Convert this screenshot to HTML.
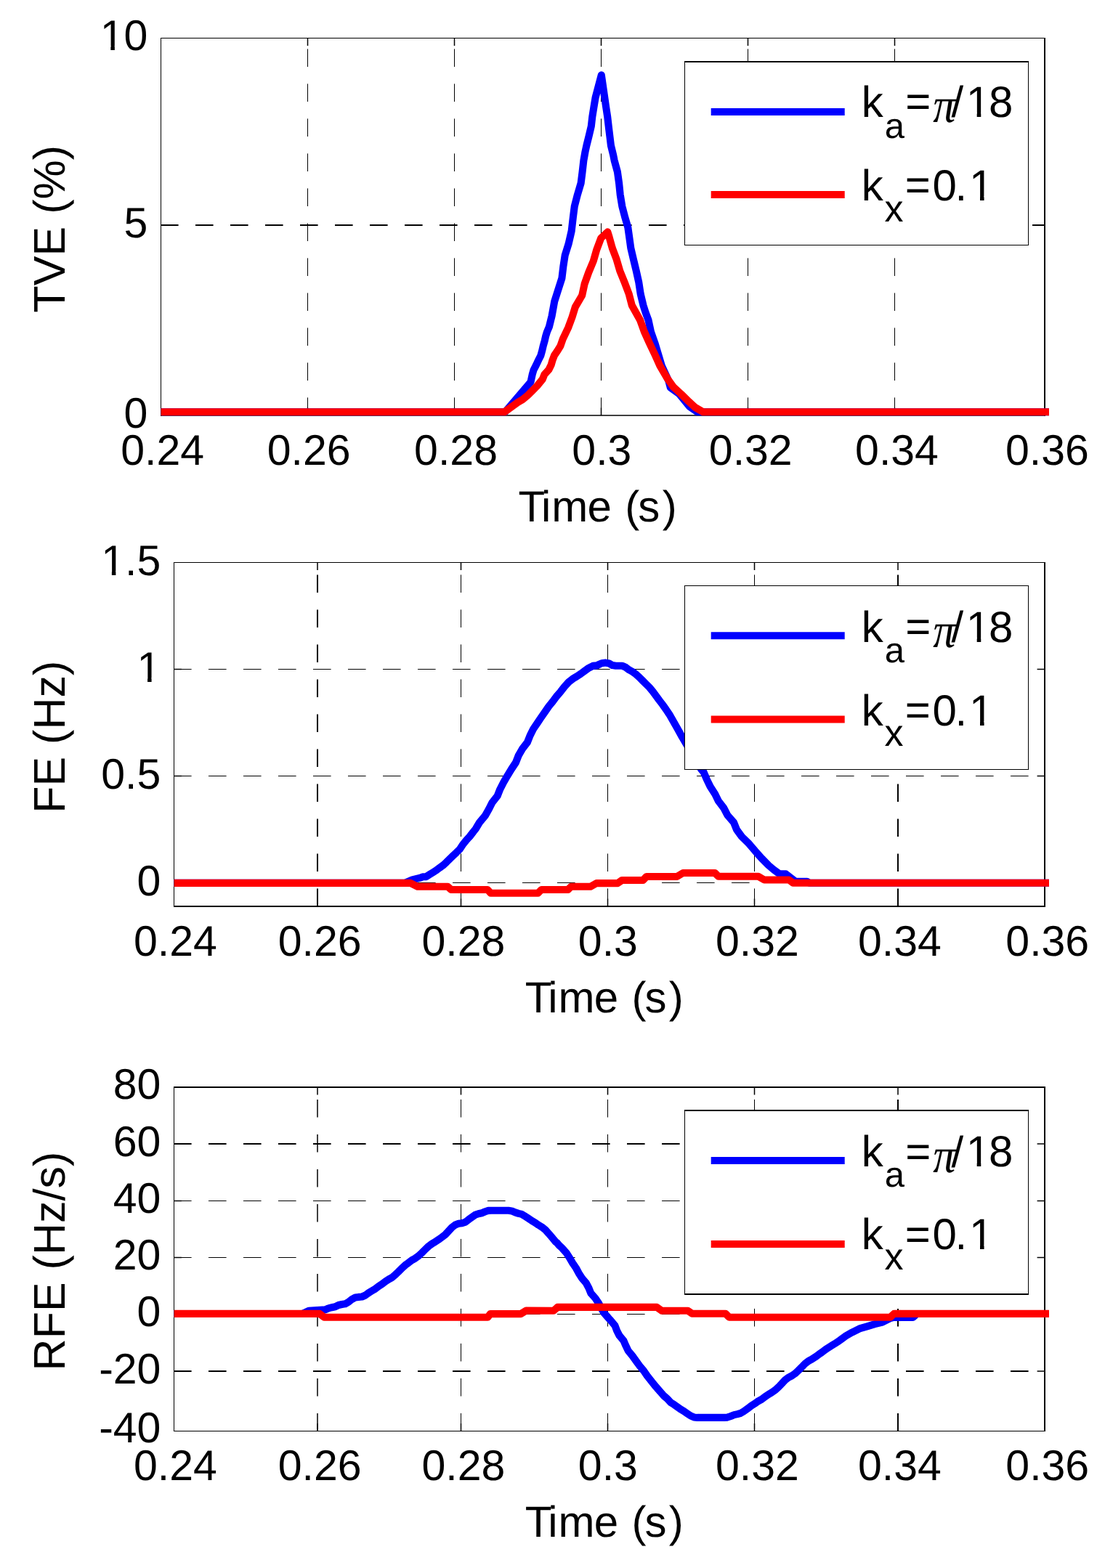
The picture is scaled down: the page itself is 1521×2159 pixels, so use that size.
<!DOCTYPE html><html><head><meta charset="utf-8"><title>TVE, FE and RFE vs time</title>
<style>html,body{margin:0;padding:0;background:#fff;overflow:hidden}svg{display:block}text{font-family:"Liberation Sans", Arial, Helvetica, sans-serif;fill:#000;font-kerning:none;text-rendering:geometricPrecision}</style></head><body>
<svg width="1521" height="2159" viewBox="0 0 1521 2159">
<defs><clipPath id="one" clipPathUnits="userSpaceOnUse"><path clip-rule="evenodd" d="M0 0H1521V2159H0ZM140.8 62.99H152.36V70.2H140.8ZM157.87 62.99H168.81V70.2H157.87ZM1332.93 155.02H1344.68V162.3H1332.93ZM1350.28 155.02H1361.38V162.3H1350.28ZM1337.23 270.12H1348.98V277.4H1337.23ZM1354.58 270.12H1365.68V277.4H1354.58ZM142.3 786.29H153.87V793.5H142.3ZM159.38 786.29H170.31V793.5H159.38ZM191.51 933.29H203.07V940.5H191.51ZM208.59 933.29H219.52V940.5H208.59ZM1332.93 877.92H1344.68V885.2H1332.93ZM1350.28 877.92H1361.38V885.2H1350.28ZM1337.23 992.92H1348.98V1000.2H1337.23ZM1354.58 992.92H1365.68V1000.2H1354.58ZM1332.93 1600.52H1344.68V1607.8H1332.93ZM1350.28 1600.52H1361.38V1607.8H1350.28ZM1337.23 1714.62H1348.98V1721.9H1337.23ZM1354.58 1714.62H1365.68V1721.9H1354.58Z"/></clipPath></defs>
<rect width="1521" height="2159" fill="#fff"/>
<path d="M423.5 572V547.4M423.5 524V499.4M423.5 476V451.4M423.5 428V403.4M423.5 380V355.4M423.5 332V307.4M423.5 284V259.4M423.5 236V211.4M423.5 188V163.4M423.5 140V115.4M423.5 92V67.4" stroke="#000" stroke-width="1" fill="none"/>
<path d="M625.5 572V547.4M625.5 524V499.4M625.5 476V451.4M625.5 428V403.4M625.5 380V355.4M625.5 332V307.4M625.5 284V259.4M625.5 236V211.4M625.5 188V163.4M625.5 140V115.4M625.5 92V67.4" stroke="#000" stroke-width="1" fill="none"/>
<path d="M827.5 572V547.4M827.5 524V499.4M827.5 476V451.4M827.5 428V403.4M827.5 380V355.4M827.5 332V307.4M827.5 284V259.4M827.5 236V211.4M827.5 188V163.4M827.5 140V115.4M827.5 92V67.4" stroke="#000" stroke-width="1" fill="none"/>
<path d="M1029.5 572V547.4M1029.5 524V499.4M1029.5 476V451.4M1029.5 428V403.4M1029.5 380V355.4M1029.5 332V307.4M1029.5 284V259.4M1029.5 236V211.4M1029.5 188V163.4M1029.5 140V115.4M1029.5 92V67.4" stroke="#000" stroke-width="1" fill="none"/>
<path d="M1231.5 572V547.4M1231.5 524V499.4M1231.5 476V451.4M1231.5 428V403.4M1231.5 380V355.4M1231.5 332V307.4M1231.5 284V259.4M1231.5 236V211.4M1231.5 188V163.4M1231.5 140V115.4M1231.5 92V67.4" stroke="#000" stroke-width="1" fill="none"/>
<path d="M221 310H245.6M269 310H293.6M317 310H341.6M365 310H389.6M413 310H437.6M461 310H485.6M509 310H533.6M557 310H581.6M605 310H629.6M653 310H677.6M701 310H725.6M749 310H773.6M797 310H821.6M845 310H869.6M893 310H917.6M941 310H965.6M989 310H1013.6M1037 310H1061.6M1085 310H1109.6M1133 310H1157.6M1181 310H1205.6M1229 310H1253.6M1277 310H1301.6M1325 310H1349.6M1373 310H1397.6M1421 310H1438" stroke="#000" stroke-width="2" fill="none"/>
<path d="M423.5 52.5v10.4M423.5 572v-10.4M625.5 52.5v10.4M625.5 572v-10.4M827.5 52.5v10.4M827.5 572v-10.4M1029.5 52.5v10.4M1029.5 572v-10.4M1231.5 52.5v10.4M1231.5 572v-10.4M221.5 310h10.4M1438 310h-10.4" stroke="#000" stroke-width="1.5" fill="none"/>
<path d="M221 52.5H1439" stroke="#000" stroke-width="1"/>
<path d="M221 572H1439" stroke="#000" stroke-width="1.6"/>
<path d="M221.5 52V572.8" stroke="#000" stroke-width="1"/>
<path d="M1438 52V572.8" stroke="#000" stroke-width="2"/>
<path d="M221.5 567.3 695.3 567.3 730.5 526 732.7 515.7 734.6 509.2 738 502.6 741.1 496 744.4 489.4 746.2 482.9 747.7 476.3 749.6 469.7 751.1 463.1 753.1 456.6 755.9 450 759.6 435 763.3 414.7 768.3 398.9 773.4 383.1 775.3 367.3 777.7 351.6 782.6 335.8 786.7 318 788.8 299.7 790.8 283.9 794.9 268.1 799.6 252.3 801.6 236.6 803.4 220.8 805.5 209 807.4 200.2 810.7 187 813.8 173.9 815.3 160.7 817.4 147.6 819.6 134.4 827.8 103.3 832.3 134.4 834.2 147.6 836.2 160.7 837.7 173.9 839.3 187 840.9 200.2 844.1 213.3 845.6 220.8 849.9 236.6 852.1 252.3 853.7 268.1 856.3 283.9 860.4 299.7 864.3 313 866.1 325.8 868.3 341.6 872 357.3 875.8 373.1 879.3 388.9 881.7 404.7 885.5 420.5 888.5 430 892.5 440.8 895.9 456.6 901.4 472.3 906.2 488.1 910.9 503.9 920.2 524 922.8 533.6 934.6 542.1 949.1 559.9 960 567.3 1444 567.3" stroke="#00f" stroke-width="10.1" fill="none" stroke-linejoin="round"/>
<path d="M221.5 567.3 694.3 567.3 706.3 558.6 712.9 553.9 719.4 550.1 726 544.7 732.6 538.1 739.2 531.5 746.7 522.3 749.4 515.7 755.3 509.2 758.6 502.6 760.5 496 763 489.4 767.4 482.9 771.4 476.3 774.8 466.6 782.3 450.8 787.6 436.5 791.9 422.6 801.2 406.8 804.6 391 810.2 375.2 816.8 359.4 821.3 343.7 827.2 327.9 836.4 319.4 838.4 325.8 842.8 341.6 848.7 357.3 853.3 373.1 859.7 388.9 865.7 404.7 869.8 420.5 875.1 430 881.1 440.8 886.8 456.6 893.9 472.3 901.4 488.1 908.5 503.9 918.9 521.6 926.8 532.7 937.6 542.6 948.2 553.1 956.9 561 968 567.3 1444 567.3" stroke="#f00" stroke-width="10.1" fill="none" stroke-linejoin="round"/>
<rect x="942.5" y="85" width="473" height="252.5" fill="#fff"/>
<path d="M942 85H1416" stroke="#000" stroke-width="2"/><path d="M942 337.5H1416" stroke="#000" stroke-width="1"/>
<path d="M942.5 85V337.5M1415.5 85V337.5" stroke="#000" stroke-width="1"/>
<g clip-path="url(#one)">
<path d="M978.7 153.9H1162.7" stroke="#00f" stroke-width="10"/>
<path d="M978.7 267.9H1162.7" stroke="#f00" stroke-width="10"/>
<text x="1185.76" y="160.8" font-size="60">k</text>
<text x="1217.72" y="189.6" font-size="49">a</text>
<text x="1246.17" y="160.2" font-size="60">=</text>
<text x="0" y="0" font-size="62" transform="translate(1284.3 168.4) scale(1 1.1)" style="font-family:'Liberation Serif',serif;font-style:italic">&#960;</text>
<text x="1309.4" y="161.4" font-size="60">/</text>
<text x="1329.74" y="160.8" font-size="60">1</text>
<text x="1361.09" y="160.8" font-size="60">8</text>
<text x="1185.86" y="275.9" font-size="60">k</text>
<text x="1217.52" y="304.8" font-size="52">x</text>
<text x="1245.87" y="275.3" font-size="60">=</text>
<text x="1283.56" y="275.9" font-size="60">0</text>
<text x="1314.52" y="275.9" font-size="60">.</text>
<text x="1334.04" y="275.9" font-size="60">1</text>
<text x="137.67 170.49" y="68.7" font-size="59">10</text>
<text x="170.49" y="326.5" font-size="59">5</text>
<text x="170.49" y="588.5" font-size="59">0</text>
<text x="166.3 199.11 215.5 248.31" y="639.8" font-size="59">0.24</text>
<text x="367.73 400.54 416.93 449.75" y="639.8" font-size="59">0.26</text>
<text x="570.11 602.93 619.32 652.13" y="639.8" font-size="59">0.28</text>
<text x="787.34 820.15 836.54" y="639.8" font-size="59">0.3</text>
<text x="975.82 1008.63 1025.02 1057.83" y="639.8" font-size="59">0.32</text>
<text x="1177.1 1209.91 1226.3 1259.11" y="639.8" font-size="59">0.34</text>
<text x="1384.03 1416.84 1433.23 1466.05" y="639.8" font-size="59">0.36</text>
<text x="713.45 744.99 759.32 808.45 841.82 860.28 878.33 911.65" y="717.9" font-size="60">Time (s)</text>
<text x="0" y="0" font-size="61" text-anchor="middle" transform="translate(89 315.2) rotate(-90)">TVE (%)</text>
</g>
<path d="M437 1248V1223.4M437 1200V1175.4M437 1152V1127.4M437 1104V1079.4M437 1056V1031.4M437 1008V983.4M437 960V935.4M437 912V887.4M437 864V839.4M437 816V791.4" stroke="#000" stroke-width="2" fill="none"/>
<path d="M634.5 1248V1223.4M634.5 1200V1175.4M634.5 1152V1127.4M634.5 1104V1079.4M634.5 1056V1031.4M634.5 1008V983.4M634.5 960V935.4M634.5 912V887.4M634.5 864V839.4M634.5 816V791.4" stroke="#000" stroke-width="1" fill="none"/>
<path d="M836.5 1248V1223.4M836.5 1200V1175.4M836.5 1152V1127.4M836.5 1104V1079.4M836.5 1056V1031.4M836.5 1008V983.4M836.5 960V935.4M836.5 912V887.4M836.5 864V839.4M836.5 816V791.4" stroke="#000" stroke-width="1" fill="none"/>
<path d="M1038.5 1248V1223.4M1038.5 1200V1175.4M1038.5 1152V1127.4M1038.5 1104V1079.4M1038.5 1056V1031.4M1038.5 1008V983.4M1038.5 960V935.4M1038.5 912V887.4M1038.5 864V839.4M1038.5 816V791.4" stroke="#000" stroke-width="1" fill="none"/>
<path d="M1236 1248V1223.4M1236 1200V1175.4M1236 1152V1127.4M1236 1104V1079.4M1236 1056V1031.4M1236 1008V983.4M1236 960V935.4M1236 912V887.4M1236 864V839.4M1236 816V791.4" stroke="#000" stroke-width="2" fill="none"/>
<path d="M239 921.5H263.6M287 921.5H311.6M335 921.5H359.6M383 921.5H407.6M431 921.5H455.6M479 921.5H503.6M527 921.5H551.6M575 921.5H599.6M623 921.5H647.6M671 921.5H695.6M719 921.5H743.6M767 921.5H791.6M815 921.5H839.6M863 921.5H887.6M911 921.5H935.6M959 921.5H983.6M1007 921.5H1031.6M1055 921.5H1079.6M1103 921.5H1127.6M1151 921.5H1175.6M1199 921.5H1223.6M1247 921.5H1271.6M1295 921.5H1319.6M1343 921.5H1367.6M1391 921.5H1415.6" stroke="#000" stroke-width="1" fill="none"/>
<path d="M239 1068.5H263.6M287 1068.5H311.6M335 1068.5H359.6M383 1068.5H407.6M431 1068.5H455.6M479 1068.5H503.6M527 1068.5H551.6M575 1068.5H599.6M623 1068.5H647.6M671 1068.5H695.6M719 1068.5H743.6M767 1068.5H791.6M815 1068.5H839.6M863 1068.5H887.6M911 1068.5H935.6M959 1068.5H983.6M1007 1068.5H1031.6M1055 1068.5H1079.6M1103 1068.5H1127.6M1151 1068.5H1175.6M1199 1068.5H1223.6M1247 1068.5H1271.6M1295 1068.5H1319.6M1343 1068.5H1367.6M1391 1068.5H1415.6" stroke="#000" stroke-width="1" fill="none"/>
<path d="M239 1215.5H263.6M287 1215.5H311.6M335 1215.5H359.6M383 1215.5H407.6M431 1215.5H455.6M479 1215.5H503.6M527 1215.5H551.6M575 1215.5H599.6M623 1215.5H647.6M671 1215.5H695.6M719 1215.5H743.6M767 1215.5H791.6M815 1215.5H839.6M863 1215.5H887.6M911 1215.5H935.6M959 1215.5H983.6M1007 1215.5H1031.6M1055 1215.5H1079.6M1103 1215.5H1127.6M1151 1215.5H1175.6M1199 1215.5H1223.6M1247 1215.5H1271.6M1295 1215.5H1319.6M1343 1215.5H1367.6M1391 1215.5H1415.6" stroke="#000" stroke-width="1" fill="none"/>
<path d="M437 774.5v10.4M437 1248v-10.4M634.5 774.5v10.4M634.5 1248v-10.4M836.5 774.5v10.4M836.5 1248v-10.4M1038.5 774.5v10.4M1038.5 1248v-10.4M1236 774.5v10.4M1236 1248v-10.4M239.5 921.5h10.4M1438 921.5h-10.4M239.5 1068.5h10.4M1438 1068.5h-10.4M239.5 1215.5h10.4M1438 1215.5h-10.4" stroke="#000" stroke-width="1.5" fill="none"/>
<path d="M239 774.5H1439" stroke="#000" stroke-width="1"/>
<path d="M239 1248H1439" stroke="#000" stroke-width="2"/>
<path d="M239.5 774V1249" stroke="#000" stroke-width="1"/>
<path d="M1438 774V1249" stroke="#000" stroke-width="2"/>
<path d="M239.5 1215.9 557 1215.9 567.4 1211.4 577.6 1208.9 582.2 1207.3 586.8 1207.1 591.4 1204.1 596 1201.2 600.6 1198.3 605.2 1194.8 609.9 1191.4 614.5 1187.2 619.1 1182.7 623.7 1178.2 628.3 1173.8 632.9 1169.2 637.5 1162.3 642.1 1156.6 646.7 1151.6 651.3 1145.6 654.7 1141.4 660.2 1132.2 667.9 1123 673.1 1113.8 677.6 1104.8 684.7 1095.9 688.3 1086.7 693 1077.5 698.3 1068.3 703.9 1059.1 710 1049.9 713.6 1040.6 718.8 1031.4 725.9 1022.2 729.5 1013 734.1 1003.8 740.3 994.6 744.2 988.8 749.7 980.9 755.2 972.9 760.8 966 766.3 958.6 771.8 952.2 777.3 945.1 782.9 939 788.4 934.7 793.9 931.4 799.4 927.7 805 923.6 810.5 919.7 816 916.9 821.5 916.4 824.6 914.9 828.2 913.2 833.8 912.6 838.4 913.5 843 916.1 847.6 916.8 852.2 916.8 856.8 916.8 861.4 918.9 866 922.4 870.6 924.9 875.2 928.3 879.9 932.5 884.5 937.1 889.1 941.7 893.7 946.3 898.3 951.8 902.9 958 907.5 964.3 912.1 970.3 916.7 976.7 921.3 983.6 933.1 1004.2 938.9 1014.7 952 1037 965 1059 968.6 1063.3 972.8 1073.1 977.6 1083 984 1092.9 988.8 1102.7 996.3 1112.6 1001.4 1122.5 1010 1132.3 1013.9 1142.2 1021 1152 1031.1 1161.9 1039.5 1171.8 1048.2 1181.6 1057.9 1191.5 1065 1197.5 1073 1203.4 1081.7 1203.4 1095 1213.7 1110.9 1213.7 1114 1215.7 1444 1215.7" stroke="#00f" stroke-width="10.1" fill="none" stroke-linejoin="round"/>
<path d="M239.5 1215.9 565.2 1215.9 574.7 1220.7 616.3 1220.7 621 1225 671.2 1225 675.5 1229.8 740.5 1229.8 745.2 1225 781.9 1225 786 1220.8 812.7 1220.8 821 1216.1 850.2 1216.1 856.1 1212 885.1 1212 889.8 1207 931.8 1207 940.1 1202 984 1202 989 1206.8 1044 1206.8 1052 1211.5 1086 1211.5 1091.6 1215.7 1444 1215.7" stroke="#f00" stroke-width="10.1" fill="none" stroke-linejoin="round"/>
<rect x="942.5" y="806.5" width="473" height="253" fill="#fff"/>
<path d="M942 806.5H1416M942 1059.5H1416" stroke="#000" stroke-width="1"/>
<path d="M942.5 806.5V1059.5M1415.5 806.5V1059.5" stroke="#000" stroke-width="1"/>
<g clip-path="url(#one)">
<path d="M978.7 875.3H1162.7" stroke="#00f" stroke-width="10"/>
<path d="M978.7 990.4H1162.7" stroke="#f00" stroke-width="10"/>
<text x="1185.76" y="883.7" font-size="60">k</text>
<text x="1217.72" y="911.6" font-size="49">a</text>
<text x="1246.17" y="883.1" font-size="60">=</text>
<text x="0" y="0" font-size="62" transform="translate(1284.3 891.3) scale(1 1.1)" style="font-family:'Liberation Serif',serif;font-style:italic">&#960;</text>
<text x="1309.4" y="884.3" font-size="60">/</text>
<text x="1329.74" y="883.7" font-size="60">1</text>
<text x="1361.09" y="883.7" font-size="60">8</text>
<text x="1185.86" y="998.7" font-size="60">k</text>
<text x="1217.52" y="1026.7" font-size="52">x</text>
<text x="1245.87" y="998.1" font-size="60">=</text>
<text x="1283.56" y="998.7" font-size="60">0</text>
<text x="1314.52" y="998.7" font-size="60">.</text>
<text x="1334.04" y="998.7" font-size="60">1</text>
<text x="139.18 171.99 188.39" y="792" font-size="59">1.5</text>
<text x="188.39" y="939" font-size="59">1</text>
<text x="139.18 171.99 188.39" y="1085.7" font-size="59">0.5</text>
<text x="188.39" y="1232.7" font-size="59">0</text>
<text x="184 216.81 233.2 266.01" y="1316.1" font-size="59">0.24</text>
<text x="382.73 415.54 431.93 464.75" y="1316.1" font-size="59">0.26</text>
<text x="580.51 613.33 629.72 662.53" y="1316.1" font-size="59">0.28</text>
<text x="795.84 828.65 845.04" y="1316.1" font-size="59">0.3</text>
<text x="985.02 1017.83 1034.22 1067.03" y="1316.1" font-size="59">0.32</text>
<text x="1181 1213.81 1230.2 1263.01" y="1316.1" font-size="59">0.34</text>
<text x="1384.33 1417.14 1433.53 1466.35" y="1316.1" font-size="59">0.36</text>
<text x="722.65 754.19 768.52 817.65 851.02 869.48 887.53 920.85" y="1393.8" font-size="60">Time (s)</text>
<text x="0" y="0" font-size="61" text-anchor="middle" transform="translate(89 1014.8) rotate(-90)">FE (Hz)</text>
</g>
<path d="M437 1970.5V1945.9M437 1922.5V1897.9M437 1874.5V1849.9M437 1826.5V1801.9M437 1778.5V1753.9M437 1730.5V1705.9M437 1682.5V1657.9M437 1634.5V1609.9M437 1586.5V1561.9M437 1538.5V1513.9" stroke="#000" stroke-width="1.5" fill="none"/>
<path d="M634.5 1970.5V1945.9M634.5 1922.5V1897.9M634.5 1874.5V1849.9M634.5 1826.5V1801.9M634.5 1778.5V1753.9M634.5 1730.5V1705.9M634.5 1682.5V1657.9M634.5 1634.5V1609.9M634.5 1586.5V1561.9M634.5 1538.5V1513.9" stroke="#000" stroke-width="1" fill="none"/>
<path d="M836.5 1970.5V1945.9M836.5 1922.5V1897.9M836.5 1874.5V1849.9M836.5 1826.5V1801.9M836.5 1778.5V1753.9M836.5 1730.5V1705.9M836.5 1682.5V1657.9M836.5 1634.5V1609.9M836.5 1586.5V1561.9M836.5 1538.5V1513.9" stroke="#000" stroke-width="1" fill="none"/>
<path d="M1038.5 1970.5V1945.9M1038.5 1922.5V1897.9M1038.5 1874.5V1849.9M1038.5 1826.5V1801.9M1038.5 1778.5V1753.9M1038.5 1730.5V1705.9M1038.5 1682.5V1657.9M1038.5 1634.5V1609.9M1038.5 1586.5V1561.9M1038.5 1538.5V1513.9" stroke="#000" stroke-width="1" fill="none"/>
<path d="M1236 1970.5V1945.9M1236 1922.5V1897.9M1236 1874.5V1849.9M1236 1826.5V1801.9M1236 1778.5V1753.9M1236 1730.5V1705.9M1236 1682.5V1657.9M1236 1634.5V1609.9M1236 1586.5V1561.9M1236 1538.5V1513.9" stroke="#000" stroke-width="2" fill="none"/>
<path d="M239 1575H263.6M287 1575H311.6M335 1575H359.6M383 1575H407.6M431 1575H455.6M479 1575H503.6M527 1575H551.6M575 1575H599.6M623 1575H647.6M671 1575H695.6M719 1575H743.6M767 1575H791.6M815 1575H839.6M863 1575H887.6M911 1575H935.6M959 1575H983.6M1007 1575H1031.6M1055 1575H1079.6M1103 1575H1127.6M1151 1575H1175.6M1199 1575H1223.6M1247 1575H1271.6M1295 1575H1319.6M1343 1575H1367.6M1391 1575H1415.6" stroke="#000" stroke-width="2" fill="none"/>
<path d="M239 1653.5H263.6M287 1653.5H311.6M335 1653.5H359.6M383 1653.5H407.6M431 1653.5H455.6M479 1653.5H503.6M527 1653.5H551.6M575 1653.5H599.6M623 1653.5H647.6M671 1653.5H695.6M719 1653.5H743.6M767 1653.5H791.6M815 1653.5H839.6M863 1653.5H887.6M911 1653.5H935.6M959 1653.5H983.6M1007 1653.5H1031.6M1055 1653.5H1079.6M1103 1653.5H1127.6M1151 1653.5H1175.6M1199 1653.5H1223.6M1247 1653.5H1271.6M1295 1653.5H1319.6M1343 1653.5H1367.6M1391 1653.5H1415.6" stroke="#000" stroke-width="1" fill="none"/>
<path d="M239 1731.5H263.6M287 1731.5H311.6M335 1731.5H359.6M383 1731.5H407.6M431 1731.5H455.6M479 1731.5H503.6M527 1731.5H551.6M575 1731.5H599.6M623 1731.5H647.6M671 1731.5H695.6M719 1731.5H743.6M767 1731.5H791.6M815 1731.5H839.6M863 1731.5H887.6M911 1731.5H935.6M959 1731.5H983.6M1007 1731.5H1031.6M1055 1731.5H1079.6M1103 1731.5H1127.6M1151 1731.5H1175.6M1199 1731.5H1223.6M1247 1731.5H1271.6M1295 1731.5H1319.6M1343 1731.5H1367.6M1391 1731.5H1415.6" stroke="#000" stroke-width="1" fill="none"/>
<path d="M239 1809.5H263.6M287 1809.5H311.6M335 1809.5H359.6M383 1809.5H407.6M431 1809.5H455.6M479 1809.5H503.6M527 1809.5H551.6M575 1809.5H599.6M623 1809.5H647.6M671 1809.5H695.6M719 1809.5H743.6M767 1809.5H791.6M815 1809.5H839.6M863 1809.5H887.6M911 1809.5H935.6M959 1809.5H983.6M1007 1809.5H1031.6M1055 1809.5H1079.6M1103 1809.5H1127.6M1151 1809.5H1175.6M1199 1809.5H1223.6M1247 1809.5H1271.6M1295 1809.5H1319.6M1343 1809.5H1367.6M1391 1809.5H1415.6" stroke="#000" stroke-width="1" fill="none"/>
<path d="M239 1888H263.6M287 1888H311.6M335 1888H359.6M383 1888H407.6M431 1888H455.6M479 1888H503.6M527 1888H551.6M575 1888H599.6M623 1888H647.6M671 1888H695.6M719 1888H743.6M767 1888H791.6M815 1888H839.6M863 1888H887.6M911 1888H935.6M959 1888H983.6M1007 1888H1031.6M1055 1888H1079.6M1103 1888H1127.6M1151 1888H1175.6M1199 1888H1223.6M1247 1888H1271.6M1295 1888H1319.6M1343 1888H1367.6M1391 1888H1415.6" stroke="#000" stroke-width="2" fill="none"/>
<path d="M437 1497v10.4M437 1970.5v-10.4M634.5 1497v10.4M634.5 1970.5v-10.4M836.5 1497v10.4M836.5 1970.5v-10.4M1038.5 1497v10.4M1038.5 1970.5v-10.4M1236 1497v10.4M1236 1970.5v-10.4M239.5 1575h10.4M1438 1575h-10.4M239.5 1653.5h10.4M1438 1653.5h-10.4M239.5 1731.5h10.4M1438 1731.5h-10.4M239.5 1809.5h10.4M1438 1809.5h-10.4M239.5 1888h10.4M1438 1888h-10.4" stroke="#000" stroke-width="1.5" fill="none"/>
<path d="M239 1497H1439" stroke="#000" stroke-width="2"/>
<path d="M239 1970.5H1439" stroke="#000" stroke-width="1"/>
<path d="M239.5 1496V1971" stroke="#000" stroke-width="1"/>
<path d="M1438 1496V1971" stroke="#000" stroke-width="2"/>
<path d="M239.5 1809 416 1809 425 1804.7 447.6 1803.4 452.2 1801.3 456.8 1800.2 461.4 1799.3 466 1797 470.6 1796 475.2 1795.3 479.9 1792.6 484.5 1788.9 489.1 1786.5 493.7 1785.9 498.3 1785.5 502.9 1783.5 507.5 1780.1 512.1 1777.3 516.7 1774.6 521.3 1771.1 525.9 1768.1 530.5 1764.5 535.1 1761.5 539.7 1759 544 1755.2 548.6 1750.9 553.2 1746.2 557.9 1741.9 562.2 1738.8 566.8 1735.2 571.4 1732.7 576 1729.4 580.6 1725.1 585.2 1720.5 589.9 1716 594.5 1712.6 599.1 1709.9 603.7 1706.8 608.3 1703.5 612.9 1700 617.5 1695 622.1 1690 626.7 1686.5 631.3 1684.8 635.9 1684.3 640.5 1682.7 645.1 1679.2 649.7 1675.9 654 1672.8 658.6 1671.2 663.2 1670.2 667.9 1668.3 672.2 1666.9 676.8 1666.8 681.4 1666.8 686 1666.8 690.6 1666.8 695.2 1666.8 699.9 1666.8 704.5 1667.4 709.1 1669.4 713.7 1670.9 718.3 1671.9 722.9 1674.8 727.5 1677.8 732.1 1680.9 736.7 1683.6 741.3 1686.8 745.9 1689.6 750.5 1693.2 755.1 1698.3 760 1704 764.9 1709.9 766.9 1711.5 769.4 1714.5 773.6 1718.4 779.8 1725.3 784.1 1732.2 788.2 1739.1 792.9 1746 796.6 1752.9 801.1 1759.9 806.9 1766.8 810.5 1773.7 813.3 1780.6 819.4 1787.5 824 1794.4 827.6 1801.3 831.7 1808.2 837.8 1815.1 840.8 1818.4 846.5 1825.3 849.1 1832.2 852.6 1839.1 858.4 1846 861.4 1852.9 864.7 1859.9 870.4 1866.8 875.4 1873.7 880.4 1880.6 886.1 1887.5 890.8 1894.4 896.3 1901.3 901.7 1908.2 913.8 1922 918.4 1925.8 923 1930.9 927.6 1933.8 932.2 1937.1 936.8 1940.4 941.4 1943.1 946 1946.3 950.6 1949.4 955.2 1951.4 959.9 1951.9 964.5 1951.9 969.1 1951.9 973.7 1951.9 978.3 1951.9 982.9 1951.9 987.5 1951.9 992.1 1951.9 996.7 1951.9 1001.3 1951.6 1005.9 1950 1010.5 1948.1 1015.1 1947.1 1019.7 1945.8 1024.3 1943 1028.9 1939.7 1034 1935.8 1038.7 1932.8 1043.8 1929.2 1048.4 1926.7 1053 1923.2 1057.6 1920.1 1062.2 1917.4 1066.8 1914.2 1071.4 1910.1 1076 1905.2 1080.6 1900.3 1085.2 1896.7 1089.9 1894.4 1094.5 1891.2 1099.1 1886.9 1103.7 1882.2 1108.3 1877.5 1112.9 1874 1117.5 1871.6 1122.1 1868.6 1126.7 1865.2 1131.3 1862 1135.9 1858.5 1140.5 1855.4 1145.1 1852.5 1149.7 1849.7 1154.3 1846.8 1158.9 1843.4 1163.5 1839.9 1172.6 1834.7 1183.1 1829.4 1193.6 1826.3 1204.2 1823.1 1214.7 1820.5 1225.2 1815.2 1230.5 1813.9 1256.8 1813.9 1262 1809 1444 1809" stroke="#00f" stroke-width="10.1" fill="none" stroke-linejoin="round"/>
<path d="M239.5 1808.9 440 1808.9 446.3 1813.8 671.4 1813.8 674.9 1809.1 716.8 1809.1 724.2 1804.6 762 1804.7 767.5 1799.9 904 1799.9 911 1804.8 947 1804.8 952.5 1808.7 998.5 1808.7 1003.6 1813.7 1225.4 1813.7 1230.6 1808.9 1444 1808.9" stroke="#f00" stroke-width="10.1" fill="none" stroke-linejoin="round"/>
<rect x="942.5" y="1529" width="473" height="253" fill="#fff"/>
<path d="M942 1529H1416M942 1782H1416" stroke="#000" stroke-width="2"/>
<path d="M942.5 1529V1782M1415.5 1529V1782" stroke="#000" stroke-width="1"/>
<g clip-path="url(#one)">
<path d="M978.7 1597.9H1162.7" stroke="#00f" stroke-width="10"/>
<path d="M978.7 1713H1162.7" stroke="#f00" stroke-width="10"/>
<text x="1185.76" y="1606.3" font-size="60">k</text>
<text x="1217.72" y="1634" font-size="49">a</text>
<text x="1246.17" y="1605.7" font-size="60">=</text>
<text x="0" y="0" font-size="62" transform="translate(1284.3 1613.9) scale(1 1.1)" style="font-family:'Liberation Serif',serif;font-style:italic">&#960;</text>
<text x="1309.4" y="1606.9" font-size="60">/</text>
<text x="1329.74" y="1606.3" font-size="60">1</text>
<text x="1361.09" y="1606.3" font-size="60">8</text>
<text x="1185.86" y="1720.4" font-size="60">k</text>
<text x="1217.52" y="1748.3" font-size="52">x</text>
<text x="1245.87" y="1719.8" font-size="60">=</text>
<text x="1283.56" y="1720.4" font-size="60">0</text>
<text x="1314.52" y="1720.4" font-size="60">.</text>
<text x="1334.04" y="1720.4" font-size="60">1</text>
<text x="155.77 188.59" y="1513.2" font-size="59">80</text>
<text x="155.77 188.59" y="1591.5" font-size="59">60</text>
<text x="155.77 188.59" y="1669.8" font-size="59">40</text>
<text x="155.77 188.59" y="1747.9" font-size="59">20</text>
<text x="188.59" y="1825.5" font-size="59">0</text>
<text x="136.13 155.77 188.59" y="1904.7" font-size="59">-20</text>
<text x="136.13 155.77 188.59" y="1986.2" font-size="59">-40</text>
<text x="184 216.81 233.2 266.01" y="2037.9" font-size="59">0.24</text>
<text x="382.73 415.54 431.93 464.75" y="2037.9" font-size="59">0.26</text>
<text x="580.51 613.33 629.72 662.53" y="2037.9" font-size="59">0.28</text>
<text x="795.84 828.65 845.04" y="2037.9" font-size="59">0.3</text>
<text x="985.02 1017.83 1034.22 1067.03" y="2037.9" font-size="59">0.32</text>
<text x="1181 1213.81 1230.2 1263.01" y="2037.9" font-size="59">0.34</text>
<text x="1384.33 1417.14 1433.53 1466.35" y="2037.9" font-size="59">0.36</text>
<text x="722.65 754.19 768.52 817.65 851.02 869.48 887.53 920.85" y="2116" font-size="60">Time (s)</text>
<text x="0" y="0" font-size="61" text-anchor="middle" transform="translate(89 1736.6) rotate(-90)">RFE (Hz/s)</text>
</g>
</svg></body></html>
